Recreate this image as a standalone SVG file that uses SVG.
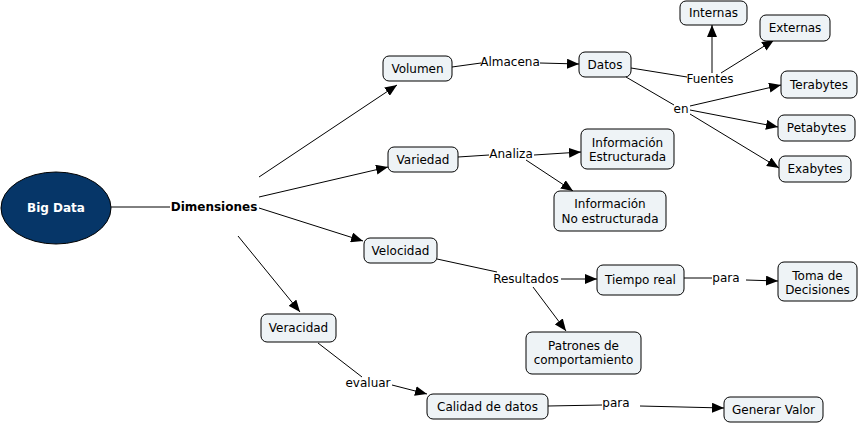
<svg xmlns="http://www.w3.org/2000/svg" width="860" height="425" viewBox="0 0 860 425">
<style>
text{font-family:"DejaVu Sans",Verdana,sans-serif;font-size:12px;fill:#000;text-anchor:middle}
.n rect{fill:#eef3f6;stroke:#000;stroke-width:1}
.c line,.c polyline{stroke:#000;stroke-width:1;fill:none}
.b{font-weight:bold}
</style>
<defs>
<marker id="a" viewBox="0 0 12 10" refX="12" refY="5" markerWidth="12" markerHeight="10" orient="auto" markerUnits="userSpaceOnUse"><path d="M0,0L12,5L0,10z" fill="#000"/></marker>
</defs>
<rect width="860" height="425" fill="#fff"/>
<g class="c" id="connectors">
<line x1="111" y1="207" x2="170" y2="207"/>
<line x1="259" y1="177" x2="397" y2="85" marker-end="url(#a)"/>
<line x1="259" y1="197" x2="388" y2="167" marker-end="url(#a)"/>
<line x1="259" y1="208" x2="363" y2="241" marker-end="url(#a)"/>
<line x1="238" y1="236" x2="300" y2="312" marker-end="url(#a)"/>
<line x1="452" y1="67" x2="481" y2="63"/>
<line x1="540" y1="63" x2="579" y2="64" marker-end="url(#a)"/>
<line x1="631" y1="68" x2="687" y2="77"/>
<line x1="712" y1="73" x2="712" y2="25" marker-end="url(#a)"/>
<line x1="721" y1="73" x2="774" y2="40" marker-end="url(#a)"/>
<line x1="626" y1="77" x2="674" y2="105"/>
<line x1="690" y1="106" x2="781" y2="85" marker-end="url(#a)"/>
<line x1="690" y1="110" x2="778" y2="127" marker-end="url(#a)"/>
<line x1="690" y1="114" x2="779" y2="168" marker-end="url(#a)"/>
<line x1="458" y1="157" x2="489" y2="155"/>
<line x1="534" y1="155" x2="581" y2="152" marker-end="url(#a)"/>
<line x1="526" y1="160" x2="573" y2="191" marker-end="url(#a)"/>
<line x1="437" y1="259" x2="497" y2="272"/>
<line x1="561" y1="279" x2="597" y2="279" marker-end="url(#a)"/>
<line x1="533" y1="287" x2="566" y2="331" marker-end="url(#a)"/>
<line x1="684" y1="278" x2="712" y2="278"/>
<line x1="746" y1="280" x2="778" y2="281" marker-end="url(#a)"/>
<line x1="318" y1="343" x2="362" y2="377"/>
<line x1="392" y1="385" x2="427" y2="394" marker-end="url(#a)"/>
<line x1="548" y1="406" x2="602" y2="405"/>
<line x1="640" y1="406" x2="724" y2="408" marker-end="url(#a)"/>
</g>
<g id="labels">
<text x="510" y="66">Almacena</text>
<text x="710" y="83">Fuentes</text>
<text x="681" y="113">en</text>
<text x="511" y="158">Analiza</text>
<text x="526" y="283">Resultados</text>
<text x="726" y="282">para</text>
<text x="368" y="387">evaluar</text>
<text x="616" y="407">para</text>
</g>
<g id="bigdata"><ellipse cx="56" cy="208" rx="55" ry="36" fill="#063668" stroke="#000" stroke-width="1"/><text x="56" y="212" class="b" style="fill:#fff">Big Data</text></g>
<g id="dimensiones"><text x="214" y="211" class="b">Dimensiones</text></g>
<g class="n" id="volumen"><rect x="383" y="56" width="69" height="25" rx="6"/><text x="417.5" y="73">Volumen</text></g>
<g class="n" id="datos"><rect x="579" y="52" width="52" height="25" rx="6"/><text x="605" y="69">Datos</text></g>
<g class="n" id="internas"><rect x="680" y="1" width="67" height="24" rx="6"/><text x="713.5" y="17">Internas</text></g>
<g class="n" id="externas"><rect x="760" y="15" width="70" height="26" rx="6"/><text x="795" y="32">Externas</text></g>
<g class="n" id="terabytes"><rect x="781" y="71" width="76" height="27" rx="6"/><text x="819" y="89">Terabytes</text></g>
<g class="n" id="petabytes"><rect x="778" y="115" width="77" height="26" rx="6"/><text x="816.5" y="132">Petabytes</text></g>
<g class="n" id="exabytes"><rect x="779" y="156" width="72" height="26" rx="6"/><text x="815" y="173">Exabytes</text></g>
<g class="n" id="variedad"><rect x="388" y="147" width="70" height="25" rx="6"/><text x="423" y="164">Variedad</text></g>
<g class="n" id="estructurada"><rect x="581" y="129" width="93" height="40" rx="6"/><text x="627.5" y="147">Información</text><text x="627.5" y="161">Estructurada</text></g>
<g class="n" id="noestructurada"><rect x="554" y="191" width="112" height="40" rx="6"/><text x="610" y="208">Información</text><text x="610" y="223">No estructurada</text></g>
<g class="n" id="velocidad"><rect x="364" y="238" width="73" height="25" rx="6"/><text x="400.5" y="255">Velocidad</text></g>
<g class="n" id="tiemporeal"><rect x="597" y="265" width="87" height="30" rx="6"/><text x="640.5" y="284">Tiempo real</text></g>
<g class="n" id="toma"><rect x="778" y="262" width="79" height="39" rx="6"/><text x="817.5" y="280">Toma de</text><text x="817.5" y="294">Decisiones</text></g>
<g class="n" id="patrones"><rect x="526" y="332" width="115" height="42" rx="6"/><text x="583.5" y="350">Patrones de</text><text x="583.5" y="364">comportamiento</text></g>
<g class="n" id="veracidad"><rect x="261" y="314" width="75" height="28" rx="6"/><text x="298.5" y="332">Veracidad</text></g>
<g class="n" id="calidad"><rect x="427" y="394" width="121" height="25" rx="6"/><text x="487.5" y="411">Calidad de datos</text></g>
<g class="n" id="generar"><rect x="724" y="397" width="99" height="25" rx="6"/><text x="773.5" y="414">Generar Valor</text></g>
</svg>
